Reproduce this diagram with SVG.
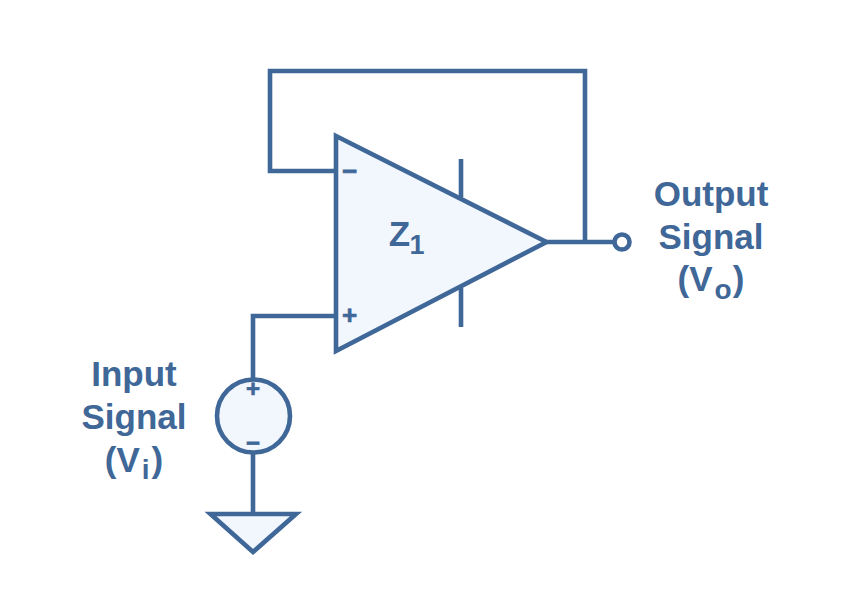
<svg xmlns="http://www.w3.org/2000/svg" width="850" height="614" viewBox="0 0 850 614">
<style>
.w{fill:none;stroke:#3f6797;stroke-width:4.6;stroke-linejoin:miter}
.s{fill:#f2f7fe;stroke:#3f6797;stroke-width:4.6}
.o{fill:#ffffff;stroke:#3f6797;stroke-width:4.6}
text{font-family:"Liberation Sans",Arial,sans-serif;font-weight:bold;fill:#3f6797;text-anchor:middle}
.l{font-size:35px}
.sub{font-size:28px}
.pm{font-size:26px;stroke:#3f6797;stroke-width:.7}
.pms{font-size:24px;stroke:#3f6797;stroke-width:.7}
</style>
<rect width="850" height="614" fill="#ffffff"/>
<g id="connectors">
<path class="w" d="M336 171H270V71H585V242"/>
<path class="w" d="M546 242H613"/>
<path class="w" d="M336 316H253V379"/>
<path class="w" d="M253 453V514"/>
<path class="w" d="M461 159V197"/>
<path class="w" d="M461 288V327"/>
</g>
<g id="opamp">
<polygon class="s" points="336,136 546.500,242 336,351"/>
<text x="399.500" y="246" font-size="35">Z</text>
<text x="417" y="254" font-size="27">1</text>
<text class="pm" x="349.500" y="179.500">−</text>
<text class="pm" x="349.500" y="324">+</text>
</g>
<g id="source">
<circle class="s" cx="253.500" cy="416" r="36.500"/>
<text class="pms" x="253" y="397">+</text>
<text class="pms" x="253" y="451">−</text>
</g>
<g id="ground">
<polygon class="s" points="210.500,514 296,514 253,552"/>
</g>
<g id="output-terminal">
<circle class="o" cx="622" cy="242" r="7.500"/>
</g>
<g id="input-label">
<text class="l" x="134" y="386">Input</text>
<text class="l" x="134" y="429">Signal</text>
<text class="l" x="134" y="472">(V<tspan class="sub" dx="2" dy="7">i</tspan><tspan dx="2" dy="-7">)</tspan></text>
</g>
<g id="output-label">
<text class="l" x="711" y="206">Output</text>
<text class="l" x="711" y="249">Signal</text>
<text class="l" x="711" y="291">(V<tspan class="sub" dx="2" dy="8">o</tspan><tspan dx="1" dy="-8">)</tspan></text>
</g>
</svg>
